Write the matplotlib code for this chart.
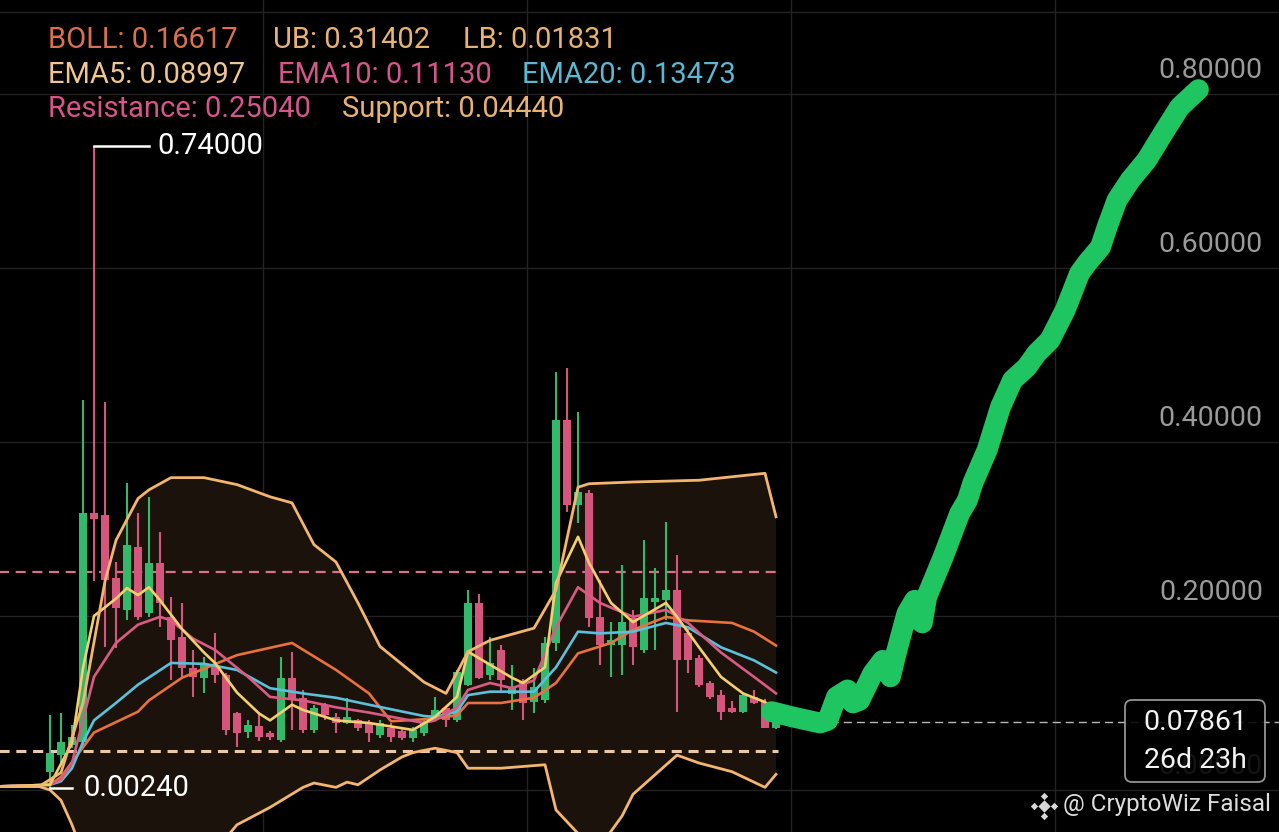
import numpy as np
import matplotlib.pyplot as plt
import matplotlib.transforms as mtransforms
from matplotlib.patches import FancyBboxPatch

plt.rcParams['font.family'] = ['Roboto', 'DejaVu Sans']

# candles (one per bar, index 0..66)
opens = [.021, .040, .052, .055, .318, .316, .244, .207, .279, .203, .261, .199, .176, .140, .129, .144,
         .132, .088, .067, .074, .066, .057, .129, .106, .069, .098, .084, .077, .080, .077, .063, .071,
         .068, .060, .065, .083, .094, .080, .121, .215, .132, .161, .110, .125, .101, .103, .169, .425,
         .328, .341, .199, .167, .167, .198, .161, .216, .218, .230, .180, .152, .123, .109, .094, .090,
         .107, .101, .071]
highs = [.086, .089, .075, .448, .740, .446, .262, .353, .318, .337, .297, .222, .215, .161, .153, .180,
         .135, .090, .080, .090, .068, .153, .159, .115, .098, .100, .088, .106, .082, .080, .080, .077,
         .070, .072, .080, .107, .096, .138, .230, .225, .176, .167, .144, .128, .140, .176, .480, .485,
         .434, .345, .241, .193, .259, .207, .287, .255, .308, .270, .185, .155, .125, .115, .102, .110,
         .115, .104, .080]
lows = [.0024, .031, .048, .050, .240, .164, .163, .195, .195, .199, .187, .126, .129, .107, .111, .123,
        .063, .049, .060, .056, .058, .055, .069, .065, .065, .080, .065, .076, .068, .055, .060, .055,
        .058, .055, .062, .080, .072, .078, .120, .127, .126, .112, .092, .080, .088, .100, .160, .320,
        .307, .187, .144, .130, .132, .144, .158, .161, .195, .090, .135, .118, .105, .080, .088, .088,
        .099, .071, .070]
closes = [.043, .055, .061, .318, .312, .241, .209, .282, .199, .261, .215, .172, .140, .130, .144, .132,
          .069, .066, .075, .061, .061, .129, .103, .069, .094, .086, .077, .084, .071, .066, .077, .061,
          .060, .069, .077, .092, .080, .136, .215, .129, .146, .126, .118, .100, .118, .169, .425, .328,
          .343, .198, .167, .172, .193, .164, .221, .221, .230, .149, .149, .121, .107, .090, .090, .109,
          .100, .071, .0786]

# indicator lines (bar index, price)
ub_i = [-5, -1, 1, 3, 5, 6, 8, 9, 11, 14, 17, 20, 22, 24, 26, 28, 30, 34, 36, 38, 40, 44, 46, 48, 49, 53, 59, 65, 66]
ub_v = [.004, .004, .02, .10, .24, .287, .335, .345, .359, .359, .351, .337, .330, .282, .262, .215, .165,
        .124, .111, .159, .172, .186, .23, .348, .352, .354, .356, .364, .314]
lb_i = [-5, -1, 0, 1, 2, 4, 9, 12, 15, 17, 20, 23, 24, 26, 27, 28, 30, 32, 33, 35, 37, 38, 41, 45, 46, 48,
        50, 52, 53, 57, 59, 62, 65, 66]
lb_v = [.004, .004, .0, -.012, -.04, -.108, -.139, -.10, -.07, -.04, -.02, .003, .008, .003, .009, .006,
        .023, .038, .043, .048, .043, .025, .025, .029, -.023, -.05, -.065, -.03, -.005, .040, .031, .021,
        .003, .018]
boll_i = [-5, 0, 1, 4, 8, 9, 12, 17, 22, 26, 29, 31, 35, 37, 38, 41, 44, 46, 48, 51, 53, 56, 58, 62, 64, 66]
boll_v = [.004, .006, .015, .066, .09, .103, .129, .155, .169, .138, .111, .079, .082, .086, .100, .100,
          .106, .123, .157, .169, .184, .199, .195, .192, .182, .166]
ema5_i = [-5, 0, 2, 3, 4, 6, 7, 8, 9, 10, 12, 14, 15, 17, 19, 20, 22, 23, 26, 29, 32, 33, 35, 37, 38, 40,
          42, 43, 45, 46, 48, 49, 51, 53, 56, 57, 59, 61, 63, 65, 66]
ema5_v = [.004, .006, .054, .14, .20, .22, .232, .224, .233, .218, .185, .158, .146, .112, .088, .080,
          .098, .092, .080, .077, .071, .069, .084, .107, .159, .144, .129, .123, .141, .238, .291, .261,
          .215, .193, .215, .199, .164, .130, .111, .101, .090]
ema10_i = [-5, 0, 1, 2, 4, 6, 8, 10, 11, 13, 15, 18, 20, 23, 26, 29, 34, 35, 37, 38, 40, 42, 44, 46, 48,
           50, 53, 56, 58, 61, 64, 66]
ema10_v = [.004, .006, .012, .031, .13, .169, .19, .199, .195, .174, .161, .130, .107, .103, .095, .089,
           .077, .080, .095, .115, .123, .117, .126, .187, .233, .215, .199, .207, .192, .158, .130, .111]
ema20_i = [-5, 0, 1, 2, 3, 4, 6, 8, 11, 14, 17, 20, 23, 26, 29, 34, 35, 37, 38, 40, 44, 46, 48, 50, 53,
           56, 58, 61, 64, 66]
ema20_v = [.004, .006, .010, .025, .055, .08, .10, .121, .146, .145, .138, .117, .111, .106, .098, .085,
           .084, .090, .109, .113, .113, .141, .182, .180, .182, .192, .187, .164, .149, .135]

# hand drawn projection
proj_i = [65.6, 67.5, 70.0, 70.7, 71.5, 72.5, 73.0, 73.6, 74.8, 75.7, 76.4, 77.0, 77.9, 78.6, 79.3, 79.7,
          81.2, 82.7, 83.4, 83.9, 85.2, 86.4, 87.5, 88.8, 89.7, 90.9, 92.3, 93.6, 94.3, 95.5, 96.1, 97.0,
          98.2, 99.7, 101.2, 102.7, 104.4]
proj_v = [.090, .084, .077, .080, .107, .115, .100, .103, .134, .149, .130, .161, .203, .218, .192, .222,
          .268, .318, .333, .353, .391, .440, .471, .486, .502, .517, .552, .594, .606, .624, .647, .678,
          .701, .724, .755, .785, .805]

resistance = 0.25040
support = 0.04440
last_price = 0.07861
top_high = 0.74
bottom_low = 0.00240
y_ticks = [0.0, 0.2, 0.4, 0.6, 0.8]

GREEN = '#33b96c'
RED = '#d6557c'

fig = plt.figure(figsize=(12.79, 8.32), dpi=100)
fig.patch.set_facecolor('black')
ax = fig.add_axes([0, 0, 1, 1])
ax.set_facecolor('black')
ax.set_xlim(-4.545, 111.727)
ax.set_ylim(-0.0483, 0.908)
ax.axis('off')

# pixel transform, origin top-left
pix = mtransforms.Affine2D().scale(0.01, -0.01).translate(0, 8.32) + fig.dpi_scale_trans
pixb = mtransforms.Affine2D().scale(0.01, 0.01) + fig.dpi_scale_trans

# grid
for v in y_ticks:
    ax.axhline(v, color='#222222', lw=1.0, zorder=0)
ax.axhline(0.894, color='#222222', lw=1.0, zorder=0)
for g in [19.4, 43.4, 67.4, 91.4]:
    ax.axvline(g, color='#222222', lw=1.0, zorder=0)

# bollinger fill
ax.fill(np.r_[ub_i, lb_i[::-1]], np.r_[ub_v, lb_v[::-1]], color='#1b130b', lw=0, zorder=1)

# resistance / support
ax.plot([-4.6, 66.2], [resistance] * 2, color='#d9708c', lw=1.6, dashes=(4.5, 3), zorder=2)
ax.plot([-4.6, 66.2], [support] * 2, color='#f0c8a0', lw=2.2, dashes=(3.3, 2.2), zorder=2)
ax.plot([66.2, 112], [last_price] * 2, color='#b8b8b8', lw=1.0, dashes=(5.8, 3.6), zorder=2)

# candles
idx = np.arange(len(opens))
o = np.array(opens)
c = np.array(closes)
cols = [GREEN if cc >= oo else RED for oo, cc in zip(o, c)]
ax.vlines(idx, lows, highs, colors=cols, lw=1.5, zorder=3)
ax.bar(idx, np.maximum(np.abs(c - o), 0.004), bottom=np.minimum(o, c), width=0.74, color=cols, zorder=3)

# indicator lines
ax.plot(boll_i, boll_v, color='#e8713c', lw=1.9, zorder=4)
ax.plot(ema20_i, ema20_v, color='#5bc0dc', lw=1.9, zorder=4)
ax.plot(ema10_i, ema10_v, color='#da5a84', lw=1.9, zorder=4)
ax.plot(ema5_i, ema5_v, color='#f3d06c', lw=1.9, zorder=4)
ax.plot(ub_i, ub_v, color='#f4b56e', lw=2.0, zorder=4)
ax.plot(lb_i, lb_v, color='#f4b56e', lw=2.0, zorder=4)

# high / low markers
ax.plot([4, 9], [top_high] * 2, color='white', lw=1.8, zorder=5)
ax.text(9.8, top_high, '%.5f' % top_high, color='white', fontsize=21, va='center', ha='left', zorder=5)
ax.plot([0, 2], [bottom_low] * 2, color='white', lw=1.8, zorder=5)
ax.text(3.0, bottom_low, '%.5f' % bottom_low, color='white', fontsize=21, va='center', ha='left', zorder=5)

# projection stroke
ax.plot(proj_i, proj_v, color='#1fc560', lw=15, solid_capstyle='round', solid_joinstyle='round', zorder=8)

# right axis labels
for v in y_ticks:
    ax.text(1263, 790 - v * 870 - 24, '%.5f' % v, transform=pix, color='#9a9a9a', fontsize=20.5,
            ha='right', va='center', zorder=6)

# last price box
box = FancyBboxPatch((1125, 832 - 782), 140, 82, boxstyle='round,pad=0,rounding_size=7', transform=pixb,
                     facecolor='black', edgecolor='#a8a8a8', lw=1.3, alpha=0.88, zorder=9)
fig.add_artist(box)
fig.text(1195, 722, '%.5f' % last_price, transform=pix, color='#f2f2f2', fontsize=20.5, ha='center',
         va='center', zorder=10)
fig.text(1195, 760, '26d 23h', transform=pix, color='#f2f2f2', fontsize=20.5, ha='center', va='center',
         zorder=10)

# legend rows
rows = [
    [(48, 'BOLL: 0.16617', '#d9714d'), (273, 'UB: 0.31402', '#e9b273'), (463, 'LB: 0.01831', '#e9b273')],
    [(48, 'EMA5: 0.08997', '#f0c590'), (278, 'EMA10: 0.11130', '#d6558a'), (522, 'EMA20: 0.13473', '#5ab8d3')],
    [(48, 'Resistance: 0.25040', '#d6558a'), (342, 'Support: 0.04440', '#e9b273')],
]
for y, row in zip([40, 75, 109], rows):
    for x, s, col in row:
        fig.text(x, y, s, transform=pix, color=col, fontsize=21, ha='left', va='center')

# watermark
cx, cy = 1044, 806
ax.scatter([cx], [cy], s=40, marker='D', color='#d8d8d8', transform=pix, zorder=10, lw=0)
ax.scatter([cx, cx, cx - 10, cx + 10], [cy - 10, cy + 10, cy, cy], s=14, marker='D', color='#d8d8d8',
           transform=pix, zorder=10, lw=0)
fig.text(1063, 805, '@ CryptoWiz Faisal', transform=pix, color='#dcdcdc', fontsize=17.5, ha='left',
         va='center')

fig.savefig('out.png', dpi=100, facecolor='black')
